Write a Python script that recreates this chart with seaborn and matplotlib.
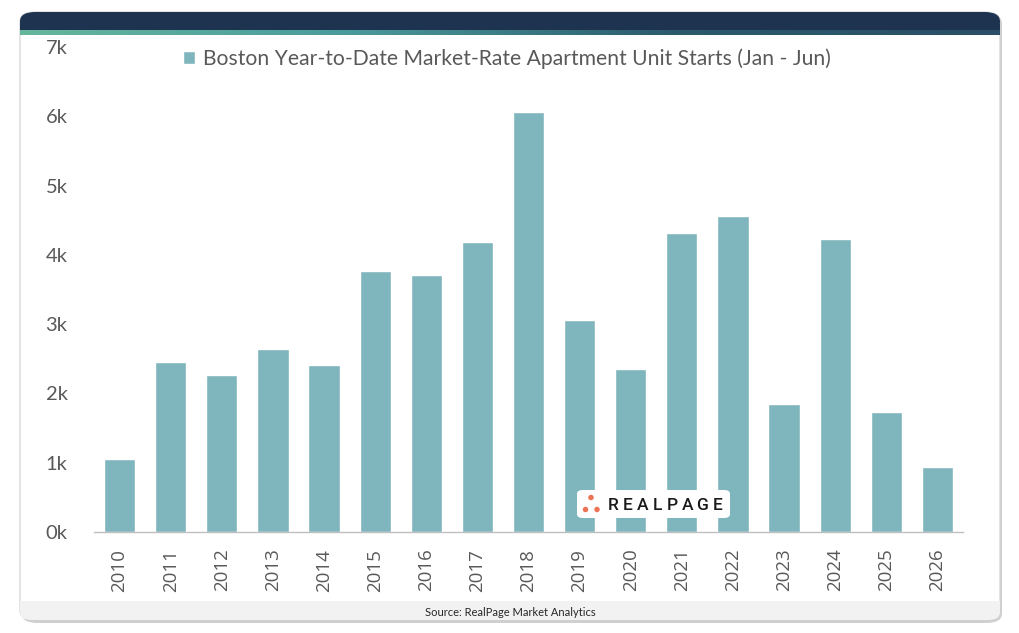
import matplotlib.pyplot as plt
import seaborn as sns
import pandas as pd
from matplotlib.patches import FancyBboxPatch, Rectangle, Ellipse
from matplotlib.colors import LinearSegmentedColormap
import numpy as np

years = [str(y) for y in range(2010, 2027)]
starts = [1050, 2450, 2265, 2640, 2410, 3765, 3710, 4185, 6060,
          3060, 2350, 4315, 4560, 1845, 4230, 1730, 940]
y_ticks = [0, 1000, 2000, 3000, 4000, 5000, 6000, 7000]
y_tick_labels = ["0k", "1k", "2k", "3k", "4k", "5k", "6k", "7k"]
series_name = "Boston Year-to-Date Market-Rate Apartment Unit Starts (Jan - Jun)"
source_text = "Source: RealPage Market Analytics"

BAR_COLOR = "#7fb5bd"
TEXT_COLOR = "#595959"
NAVY = "#1e3350"

sns.set_theme(style="white")
plt.rcParams['font.family'] = ['Lato', 'DejaVu Sans']

W, H = 1020, 633
fig = plt.figure(figsize=(W / 100, H / 100), dpi=100)
fig.patch.set_facecolor("white")


def fx(px):
    return px / W


def fy(py):
    return 1 - py / H


# card shadow and body
shadow = FancyBboxPatch((fx(22), fy(623)), fx(980), fy(14) - fy(623),
                        boxstyle="round,pad=0,rounding_size=0.015",
                        transform=fig.transFigure, facecolor="#d0d0d0",
                        edgecolor="none", zorder=0)
fig.patches.append(shadow)
card = FancyBboxPatch((fx(20), fy(620)), fx(980), fy(12) - fy(620),
                      boxstyle="round,pad=0,rounding_size=0.015",
                      transform=fig.transFigure, facecolor="white",
                      edgecolor="#cfcfcf", linewidth=0.8, zorder=1)
fig.patches.append(card)

# navy header
header = FancyBboxPatch((fx(20), fy(32)), fx(980), fy(12) - fy(32),
                        boxstyle="round,pad=0,rounding_size=0.015",
                        transform=fig.transFigure, facecolor=NAVY,
                        edgecolor="none", zorder=2)
fig.patches.append(header)
fig.patches.append(Rectangle((fx(20), fy(34)), fx(980), fy(24) - fy(34),
                             transform=fig.transFigure, facecolor=NAVY,
                             edgecolor="none", zorder=2))

# gradient strip under header
grad_ax = fig.add_axes([fx(20), fy(35), fx(980), fy(30) - fy(35)], zorder=3)
cmap = LinearSegmentedColormap.from_list("strip", ["#64b69c", "#4a9a9c", "#2b5a6c", "#2a4f66"])
grad_ax.imshow(np.linspace(0, 1, 256)[None, :], aspect="auto", cmap=cmap)
grad_ax.axis("off")

# footer band
fig.patches.append(FancyBboxPatch((fx(20), fy(620)), fx(980), fy(601) - fy(620),
                                  boxstyle="round,pad=0,rounding_size=0.012",
                                  transform=fig.transFigure, facecolor="#f2f2f2",
                                  edgecolor="none", zorder=2))
fig.patches.append(Rectangle((fx(20), fy(610)), fx(980), fy(601) - fy(610),
                             transform=fig.transFigure, facecolor="#f2f2f2",
                             edgecolor="none", zorder=2))
fig.text(0.5, fy(612), source_text, ha="center", va="center",
         fontsize=8, color="#262626", zorder=4)

# main chart
ax = fig.add_axes([fx(94), fy(532), fx(963) - fx(94), fy(47) - fy(532)], zorder=4)
ax.patch.set_alpha(0)
data = pd.DataFrame({"Year": years, "Starts": starts})
sns.barplot(data=data, x="Year", y="Starts", color=BAR_COLOR, saturation=1,
            width=0.61, ax=ax, label=series_name)

ax.set_xlim(-0.5, 16.5)
ax.set_ylim(0, 7000)
ax.set_yticks(y_ticks)
ax.set_yticklabels(y_tick_labels)
ax.set_xlabel("")
ax.set_ylabel("")
ax.tick_params(axis="y", length=0, pad=19, labelsize=14.5, labelcolor=TEXT_COLOR)
ax.tick_params(axis="x", length=0, pad=12, labelsize=13.5, labelcolor=TEXT_COLOR,
               labelrotation=90)
for lbl in ax.get_xticklabels():
    lbl.set_fontfamily(["Open Sans", "DejaVu Sans"])
for side in ["top", "right", "left"]:
    ax.spines[side].set_visible(False)
ax.spines["bottom"].set_color("#bfbfbf")
ax.spines["bottom"].set_linewidth(1)

leg = ax.legend(loc="upper center", bbox_to_anchor=(0.475, 1.037), frameon=False,
                fontsize=15.2, handlelength=0.6, handleheight=0.6,
                handletextpad=0.35, labelcolor=TEXT_COLOR)

# RealPage logo
logo = FancyBboxPatch((fx(577), fy(518)), fx(153), fy(490) - fy(518),
                      boxstyle="round,pad=0,rounding_size=0.006",
                      transform=fig.transFigure, facecolor="white",
                      edgecolor="none", zorder=5)
fig.patches.append(logo)
for cx, cy in [(591, 497.5), (585.5, 509.5), (597, 509.5)]:
    fig.patches.append(Ellipse((fx(cx), fy(cy)), fx(5.5), 5.5 / H,
                               transform=fig.transFigure,
                               facecolor="#ec7356", edgecolor="none", zorder=6))
letters = "REALPAGE"
for i, ch in enumerate(letters):
    fig.text(fx(613 + i * 14.9), fy(506), ch, ha="center", va="center",
             fontsize=12.5, color="#1a1a1a", zorder=7, fontweight="medium",
             fontfamily=["Roboto", "DejaVu Sans"])

fig.savefig("out.png", dpi=100)
